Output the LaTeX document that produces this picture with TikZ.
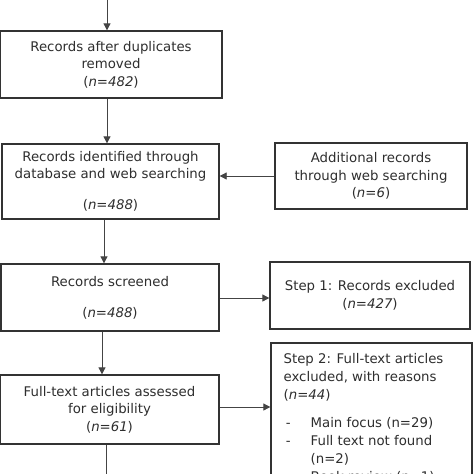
\documentclass[tikz,border=0pt]{standalone}
\usepackage{fontspec}
\setmainfont{DejaVu Sans}
\usetikzlibrary{arrows.meta}
\definecolor{boxline}{HTML}{333333}
\definecolor{txt}{HTML}{2E2E2E}
\definecolor{conn}{HTML}{444444}
\begin{document}
\begin{tikzpicture}[x=1pt,y=-1pt,
  box/.style={draw=boxline,line width=1.3pt,inner sep=0pt,align=center,text=txt,
    font=\fontsize{13.3}{17.5}\selectfont},
  conn/.style={draw=conn,line width=0.8pt},
  arr/.style={conn,-{Triangle[length=7pt,width=7pt]}}]
\useasboundingbox (0,0) rectangle (474,474);
\fill[white] (0,0) rectangle (474,474);
% boxes
\node[box,minimum width=222pt,minimum height=67pt] (b1) at (111,64.5)
  {Records after duplicates\\removed\\(\textit{n=482})};
\node[box,minimum width=217pt,minimum height=75pt] (b2) at (110.5,181.5)
  {Records identified through\\database and web searching\\[13.5pt](\textit{n=488})};
\node[box,minimum width=192pt,minimum height=66pt] (b3) at (371,176)
  {Additional records\\through web searching\\(\textit{n=6})};
\node[box,minimum width=218pt,minimum height=67pt] (b4) at (110,297.5)
  {Records screened\\[13.5pt](\textit{n=488})};
\node[box,minimum width=200pt,minimum height=67pt] (b5) at (370,295.5)
  {Step 1: Records excluded\\(\textit{n=427})};
\node[box,minimum width=219pt,minimum height=69pt] (b7) at (109.5,409.5)
  {Full-text articles assessed\\for eligibility\\(\textit{n=61})};
\node[box,minimum width=201pt,minimum height=160pt] (b6) at (371.5,423) {};
\node[box,draw=none,align=left,anchor=north west,
  font=\fontsize{13.3}{17.8}\selectfont] (t6) at (283,353)
  {Step 2: Full-text articles\\excluded, with reasons\\(\textit{n=44})\\[10.5pt]
   \makebox[27pt][l]{\,-}Main focus (n=29)\\
   \makebox[27pt][l]{\,-}Full text not found\\
   \makebox[27pt][l]{}(n=2)\\
   \makebox[27pt][l]{\,-}Book review (n=1)};
% connectors
\coordinate (top) at (107,0);
\coordinate (bot) at (106,474);
\draw[arr] (top) -- (b1.north -| top);
\draw[arr] (b1.south -| top) -- (b2.north -| top);
\draw[arr] (b3.west) -- (b2.east |- b3.west);
\draw[arr] ([xshift=-6.5pt]b2.south) -- ([xshift=-6.5pt]b2.south |- b4.north);
\draw[arr] (b4.east |- 0,298) -- (b5.west |- 0,298);
\draw[arr] ([xshift=-8pt]b4.south) -- ([xshift=-8pt]b4.south |- b7.north);
\draw[arr] (b7.east |- 0,407) -- (b6.west |- 0,407);
\draw[conn] (b7.south -| bot) -- (bot);
\end{tikzpicture}
\end{document}
